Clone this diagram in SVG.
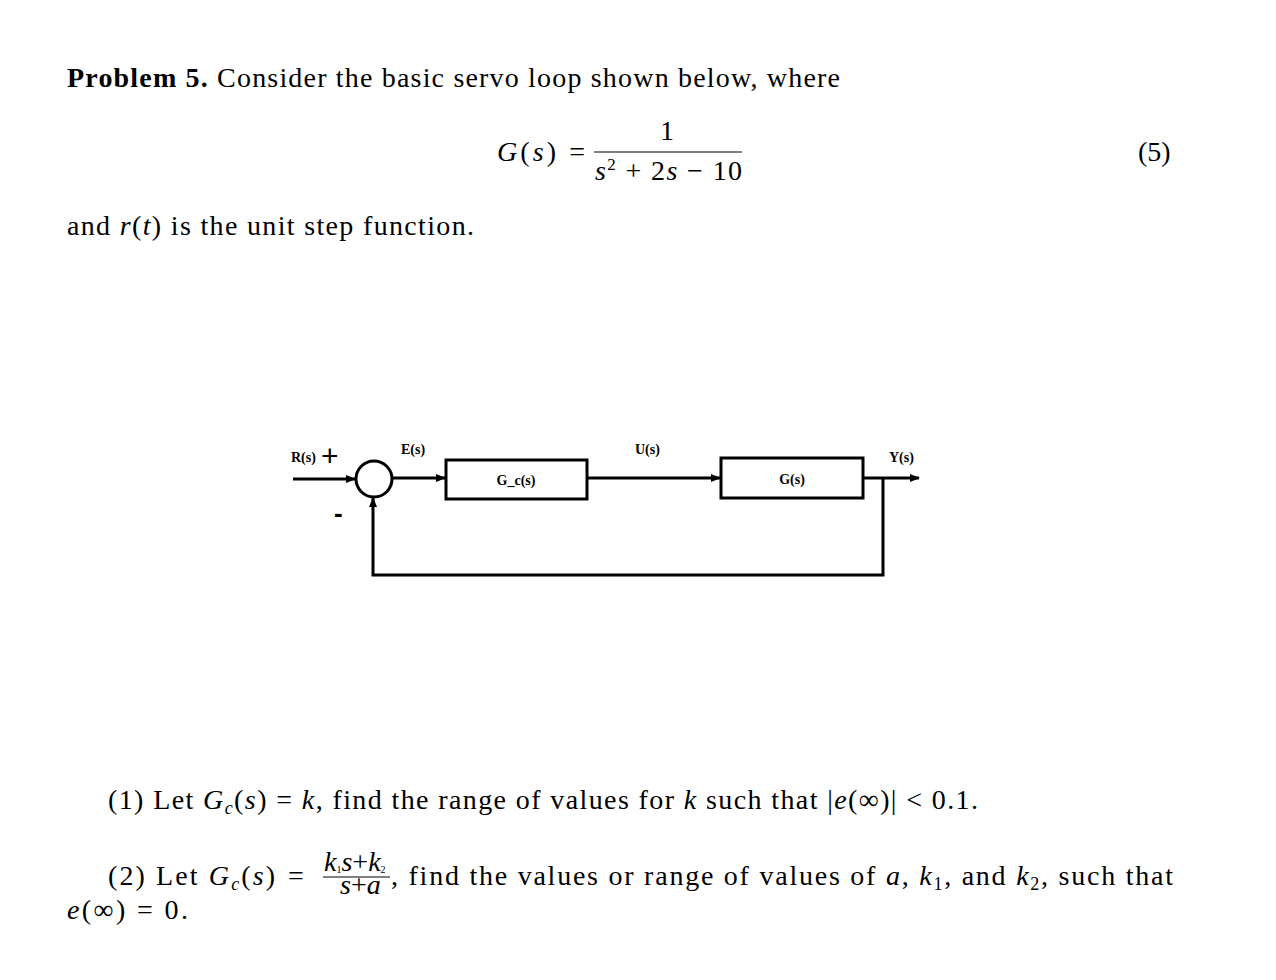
<svg xmlns="http://www.w3.org/2000/svg" width="1276" height="980" viewBox="0 0 1276 980">
<style>
.t{font-family:"Liberation Serif","DejaVu Serif",serif;font-size:28px;fill:#000}
.i{font-style:italic}
.l{font-family:"Liberation Serif",serif;font-weight:bold;font-size:14px;fill:#000}
.w{stroke:#000;stroke-width:3;fill:none}
</style>
<defs><marker id="a" markerWidth="10" markerHeight="8" refX="9" refY="4" orient="auto" markerUnits="userSpaceOnUse"><path d="M0,0L10,4L0,8z" fill="#000"/></marker></defs>
<rect width="1276" height="980" fill="#fff"/>
<text class="t" x="67" y="87" textLength="773" lengthAdjust="spacing"><tspan font-weight="bold">Problem 5.</tspan> Consider the basic servo loop shown below, where</text>
<text class="t" x="497" y="161" textLength="88" lengthAdjust="spacing"><tspan class="i">G</tspan>(<tspan class="i">s</tspan>) =</text>
<text class="t" x="660" y="140">1</text>
<line x1="594" y1="152" x2="742" y2="152" stroke="#000" stroke-width="1.2"/>
<text class="t" x="595" y="180" textLength="147" lengthAdjust="spacing"><tspan class="i">s</tspan><tspan font-size="17" dy="-10">2</tspan><tspan dy="10"> + 2</tspan><tspan class="i">s</tspan> − 10</text>
<text class="t" x="1138" y="161">(5)</text>
<text class="t" x="67" y="235" textLength="407" lengthAdjust="spacing">and <tspan class="i">r</tspan>(<tspan class="i">t</tspan>) is the unit step function.</text>
<g id="sum"><circle cx="374" cy="479" r="18" class="w"/></g>
<g id="gc"><rect x="446" y="460" width="141" height="39" class="w"/><text class="l" x="516" y="485" text-anchor="middle">G_c(s)</text></g>
<g id="g"><rect x="721" y="458" width="142" height="40" class="w"/><text class="l" x="792" y="484" text-anchor="middle">G(s)</text></g>
<g id="labels">
<text class="l" x="291" y="462">R(s)</text>
<text x="321" y="466" font-family="Liberation Sans,sans-serif" font-size="30">+</text>
<text x="334" y="522" font-family="Liberation Sans,sans-serif" font-size="26" font-weight="bold">-</text>
<text class="l" x="401" y="454">E(s)</text>
<text class="l" x="635" y="454">U(s)</text>
<text class="l" x="889" y="462">Y(s)</text>
</g>
<g id="connectors">
<line x1="293" y1="479" x2="355" y2="479" class="w" marker-end="url(#a)"/>
<line x1="392" y1="478" x2="445" y2="478" class="w" marker-end="url(#a)"/>
<line x1="587" y1="478" x2="720" y2="478" class="w" marker-end="url(#a)"/>
<line x1="863" y1="478" x2="919" y2="478" class="w" marker-end="url(#a)"/>
<polyline points="883,478 883,575 373,575 373,498" class="w" marker-end="url(#a)"/>
</g>
<text class="t" x="108" y="809" textLength="870" lengthAdjust="spacing">(1) Let <tspan class="i">G</tspan><tspan font-size="18" dy="5" class="i">c</tspan><tspan dy="-5">(</tspan><tspan class="i">s</tspan>) = <tspan class="i">k</tspan>, find the range of values for <tspan class="i">k</tspan> such that |<tspan class="i">e</tspan>(∞)| &lt; 0.1.</text>
<text class="t" x="108" y="885" textLength="167" lengthAdjust="spacing">(2) Let <tspan class="i">G</tspan><tspan font-size="18" dy="5" class="i">c</tspan><tspan dy="-5">(</tspan><tspan class="i">s</tspan>)</text>
<text class="t" x="288" y="885">=</text>
<text class="t i" x="324" y="871" font-size="15">k<tspan font-size="10" dy="2" font-style="normal">1</tspan><tspan dy="-2">s</tspan><tspan font-style="normal">+</tspan>k<tspan font-size="10" dy="2" font-style="normal">2</tspan></text>
<line x1="323" y1="877" x2="390" y2="877" stroke="#000" stroke-width="1"/>
<text class="t i" x="340" y="894" font-size="15">s<tspan font-style="normal">+</tspan>a</text>
<text class="t" x="391" y="885" textLength="782" lengthAdjust="spacing">, find the values or range of values of <tspan class="i">a</tspan>, <tspan class="i">k</tspan><tspan font-size="18" dy="5">1</tspan><tspan dy="-5">, and </tspan><tspan class="i">k</tspan><tspan font-size="18" dy="5">2</tspan><tspan dy="-5">, such that</tspan></text>
<text class="t" x="67" y="919" textLength="121" lengthAdjust="spacing"><tspan class="i">e</tspan>(∞) = 0.</text>
</svg>
